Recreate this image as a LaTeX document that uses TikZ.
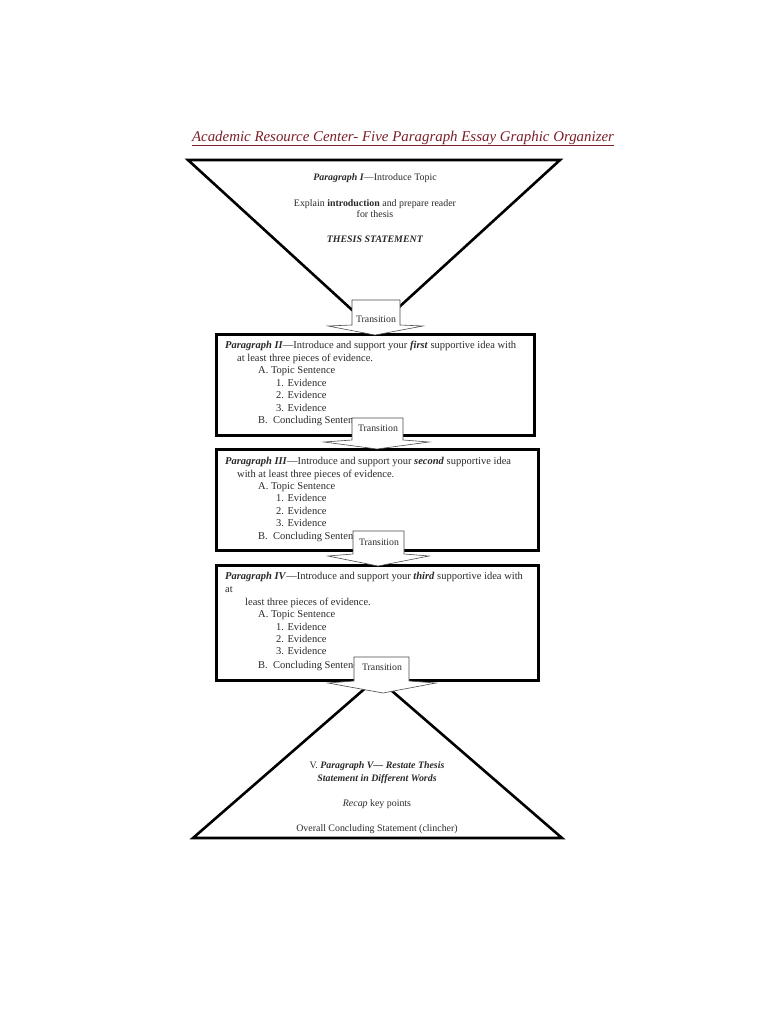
\documentclass[tikz,border=0pt]{standalone}
\usepackage{fontspec}
\setmainfont{Liberation Serif}
\usetikzlibrary{calc}
\definecolor{ink}{HTML}{2A2A2A}
\definecolor{titlered}{RGB}{125,30,40}
\begin{document}
\begin{tikzpicture}[x=1pt,y=-1pt,
  frame/.style={draw=black,line width=2.6pt,fill=white},
  tri/.style={draw=black,line width=2.6pt,line join=miter,fill=white},
  ltxt/.style={font=\fontsize{10.5}{12}\selectfont,text=ink,inner sep=0pt,anchor=base west},
  ctxt/.style={font=\fontsize{9.9}{11.5}\selectfont,text=ink,inner sep=0pt,anchor=base},
  arrowshape/.style={draw=black!70,line width=0.6pt,fill=white,line join=miter},
  trlabel/.style={font=\fontsize{9.8}{11}\selectfont,text=ink,inner sep=0pt}
]
\useasboundingbox (0,0) rectangle (768,1024);

% title
\node[font=\fontsize{14.9}{18}\selectfont\itshape,text=titlered,inner sep=0pt,anchor=base] (title) at (403,142)
  {Academic Resource Center- Five Paragraph Essay Graphic Organizer};
\draw[titlered,line width=0.8pt] ([yshift=-3.5pt]title.base west) -- ([yshift=-3.5pt]title.base east);

% paragraph I triangle
\draw[tri] (188,160) -- (560,160) -- (374,330) -- cycle;
\node[ctxt] (t1a) at (375,181) {\textbf{\textit{Paragraph I}}—Introduce Topic};
\node[ctxt] (t1b) at (375,207) {Explain \textbf{introduction} and prepare reader};
\node[ctxt] (t1c) at (375,218) {for thesis};
\node[ctxt] (t1d) at (375,243) {\textbf{\textit{THESIS STATEMENT}}};

% paragraph V triangle
\draw[tri] (193,838) -- (562,838) -- (377,678) -- cycle;

% paragraph II box
\node[frame,anchor=north west,minimum width=318pt,minimum height=101pt,inner sep=0pt] (p2) at (215,333) {};
\node[ltxt] (p2a) at (225,348) {\textbf{\textit{Paragraph II}}—Introduce and support your \textbf{\textit{first}} supportive idea with};
\node[ltxt] (p2b) at (237,361) {at least three pieces of evidence.};
\node[ltxt] (p2c) at (258,373) {A. Topic Sentence};
\node[ltxt] (p2d) at (276,386) {1. Evidence};
\node[ltxt] (p2e) at (276,398) {2. Evidence};
\node[ltxt] (p2f) at (276,411) {3. Evidence};
\node[ltxt] (p2g) at (258,423) {B.\ \ Concluding Sentence};

% paragraph III box
\node[frame,anchor=north west,minimum width=322pt,minimum height=101pt,inner sep=0pt] (p3) at (215,448) {};
\node[ltxt] (p3a) at (225,464) {\textbf{\textit{Paragraph III}}—Introduce and support your \textbf{\textit{second}} supportive idea};
\node[ltxt] (p3b) at (237,477) {with at least three pieces of evidence.};
\node[ltxt] (p3c) at (258,489) {A. Topic Sentence};
\node[ltxt] (p3d) at (276,501) {1. Evidence};
\node[ltxt] (p3e) at (276,514) {2. Evidence};
\node[ltxt] (p3f) at (276,526) {3. Evidence};
\node[ltxt] (p3g) at (258,539) {B.\ \ Concluding Sentence};

% paragraph IV box
\node[frame,anchor=north west,minimum width=322pt,minimum height=115pt,inner sep=0pt] (p4) at (215,564) {};
\node[ltxt] (p4a) at (225,579) {\textbf{\textit{Paragraph IV}}—Introduce and support your \textbf{\textit{third}} supportive idea with};
\node[ltxt] (p4b) at (225,592) {at};
\node[ltxt] (p4c) at (245,605) {least three pieces of evidence.};
\node[ltxt] (p4d) at (258,617) {A. Topic Sentence};
\node[ltxt] (p4e) at (276,630) {1. Evidence};
\node[ltxt] (p4f) at (276,642) {2. Evidence};
\node[ltxt] (p4g) at (276,654) {3. Evidence};
\node[ltxt] (p4h) at (258,668) {B.\ \ Concluding Sentence};

% paragraph V text
\node[ctxt] (t5a) at (377,768) {V. \textbf{\textit{Paragraph V— Restate Thesis}}};
\node[ctxt] (t5b) at (377,781) {\textbf{\textit{Statement in Different Words}}};
\node[ctxt] (t5c) at (377,806) {\textit{Recap} key points};
\node[ctxt] (t5d) at (377,831) {Overall Concluding Statement (clincher)};

% transition arrows
\draw[arrowshape] (352,300) -- (400,300) -- (400,325) -- (423,326) -- (375,335) -- (328,326) -- (352,325) -- cycle;
\node[trlabel] (tr1) at (376,319) {Transition};

\draw[arrowshape] (352,418) -- (403,418) -- (403,440) -- (429,442) -- (377,449) -- (324,442) -- (352,440) -- cycle;
\node[trlabel] (tr2) at (378,428) {Transition};

\draw[arrowshape] (353,531) -- (404,531) -- (404,554) -- (429,556) -- (378,566) -- (328,556) -- (353,554) -- cycle;
\node[trlabel] (tr3) at (379,542) {Transition};

\draw[arrowshape] (354,657) -- (409,657) -- (409,681) -- (436,683) -- (383,693) -- (328,683) -- (354,681) -- cycle;
\node[trlabel] (tr4) at (382,667) {Transition};
\end{tikzpicture}
\end{document}
